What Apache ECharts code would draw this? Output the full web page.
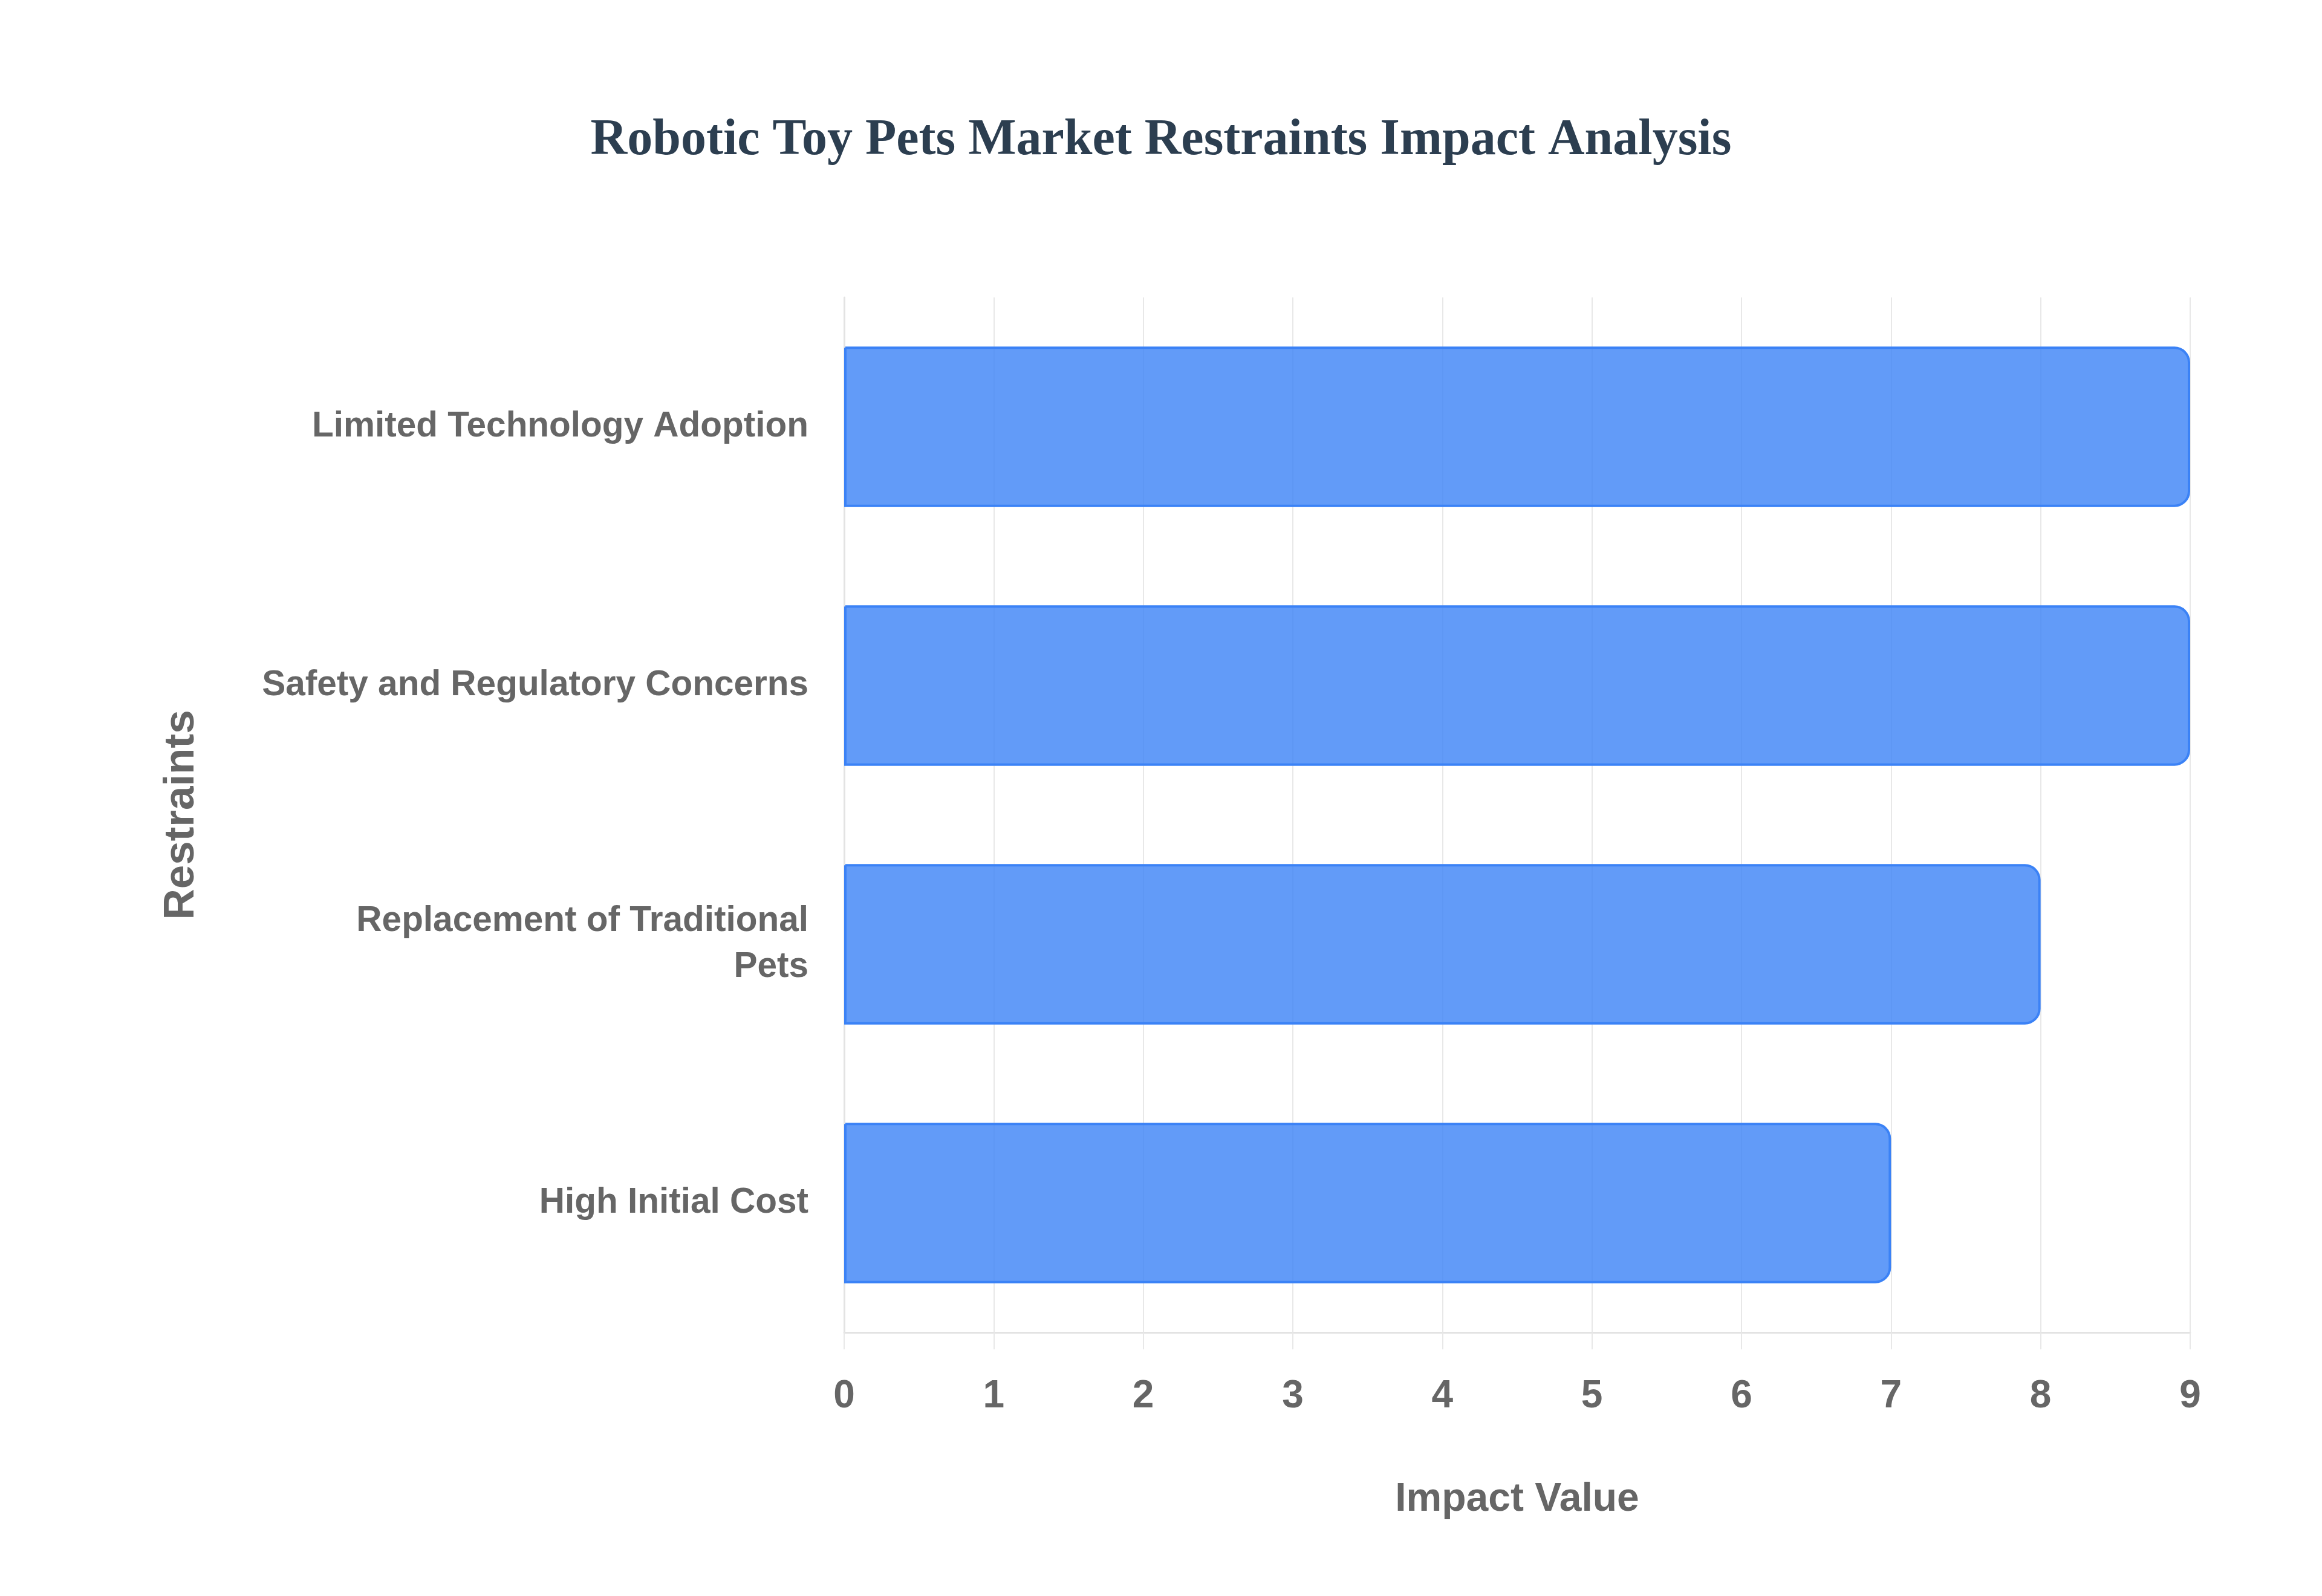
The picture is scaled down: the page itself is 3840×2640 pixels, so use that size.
<!DOCTYPE html>
<html>
<head>
<meta charset="utf-8">
<script src="https://cdn.jsdelivr.net/npm/echarts@6/dist/echarts.min.js"></script>
<style>
html,body{margin:0;padding:0;background:#fff;}
#chart{width:3840px;height:2640px;}
</style>
</head>
<body>
<div id="chart"></div>
<script>
const titleText = 'Robotic Toy Pets Market Restraints Impact Analysis';
const categories = ['High Initial Cost', 'Replacement of Traditional Pets', 'Safety and Regulatory Concerns', 'Limited Technology Adoption'];
const impactValues = [7, 8, 9, 9];
const xTicks = [0, 1, 2, 3, 4, 5, 6, 7, 8, 9];

function wrapLabel(s) {
  if (s.length <= 30) return s;
  const i = s.lastIndexOf(' ');
  return s.slice(0, i) + '\n' + s.slice(i + 1);
}

const chart = echarts.init(document.getElementById('chart'), null, {renderer: 'canvas'});
chart.setOption({
  backgroundColor: '#ffffff',
  animation: false,
  title: {
    text: titleText,
    left: 'center',
    top: 186,
    textStyle: {fontFamily: 'Liberation Serif', fontWeight: 'bold', fontSize: 84, color: '#2c3e50'}
  },
  grid: {left: 1396, right: 218, top: 492, bottom: 436, containLabel: false},
  xAxis: {
    type: 'value',
    min: xTicks[0],
    max: xTicks[xTicks.length - 1],
    interval: 1,
    name: 'Impact Value',
    nameLocation: 'middle',
    nameGap: 244,
    nameTextStyle: {fontFamily: 'Liberation Sans', fontWeight: 'bold', fontSize: 66, color: '#666666'},
    axisLine: {show: true, lineStyle: {color: '#e3e3e3', width: 3}},
    axisTick: {show: true, length: 28, lineStyle: {color: '#e8e8e8', width: 2}},
    axisLabel: {margin: 74, fontFamily: 'Liberation Sans', fontWeight: 'bold', fontSize: 64, color: '#666666'},
    splitLine: {show: true, lineStyle: {color: '#e8e8e8', width: 2}}
  },
  yAxis: {
    type: 'category',
    data: categories,
    name: 'Restraints',
    nameLocation: 'middle',
    nameGap: 1060,
    nameTextStyle: {fontFamily: 'Liberation Sans', fontWeight: 'bold', fontSize: 71, color: '#666666'},
    axisLine: {show: true, lineStyle: {color: '#e3e3e3', width: 3}},
    axisTick: {show: false},
    axisLabel: {
      margin: 59,
      fontFamily: 'Liberation Sans', fontWeight: 'bold', fontSize: 58.5, color: '#666666',
      lineHeight: 76,
      formatter: wrapLabel
    },
    splitLine: {show: false}
  },
  series: [{
    type: 'bar',
    data: impactValues,
    barWidth: '62%',
    itemStyle: {
      color: 'rgba(59,130,246,0.8)',
      borderColor: '#3b82f6',
      borderWidth: 4,
      borderRadius: [0, 24, 24, 0]
    }
  }]
});
</script>
</body>
</html>
